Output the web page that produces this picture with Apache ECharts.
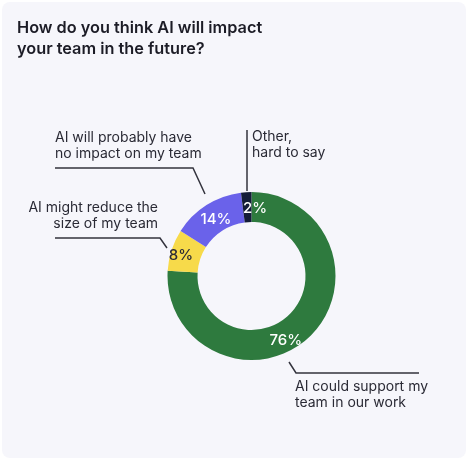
<!DOCTYPE html>
<html>
<head>
<meta charset="utf-8">
<script src="https://cdn.jsdelivr.net/npm/echarts@6/dist/echarts.min.js"></script>
<style>
  html, body { margin: 0; padding: 0; background: #ffffff; }
  #card { position: absolute; left: 2px; top: 2px; width: 464px; height: 456px; background: #f6f6fb; border-radius: 8px; }
  #main { position: absolute; left: 0; top: 0; width: 474px; height: 463px; }
</style>
</head>
<body>
<div id="card"></div>
<div id="main"></div>
<script>
// answers, clockwise from 12 o'clock
const categories = [
  'AI could support my\nteam in our work',
  'AI might reduce the\nsize of my team',
  'AI will probably have\nno impact on my team',
  'Other,\nhard to say'
]
const shares = [76, 8, 14, 2]
const colors = ['#2e7a3e', '#f7da4a', '#6a62ea', '#141c38']
const pctColors = ['#ffffff', '#2a2a35', '#ffffff', '#ffffff']
// nudges for the % labels inside the ring
const pctOffsets = [[-15, 12], [-2, 2], [3, 4], [8, 4]]

// where the outside labels + leader lines go
const outside = [
  { x: 295, y: 379, align: 'left', v: 'top', pts: [[289, 362], [296, 373], [419, 373]] },
  { x: 158, y: 232, align: 'right', v: 'bottom', pts: [[167, 248], [160, 238], [55, 238]] },
  { x: 55, y: 162, align: 'left', v: 'bottom', pts: [[205, 194], [193, 168], [55, 168]] },
  { x: 252, y: 129, align: 'left', v: 'top', pts: [[247, 191], [247, 160], [247, 130]] }
]

const myChart = echarts.init(document.getElementById('main'))

const center = [251.5, 276]
const radius = [54, 84]

myChart.setOption({
  backgroundColor: 'transparent',
  title: {
    text: 'How do you think AI will impact\nyour team in the future?',
    left: 12,
    top: 13,
    textStyle: { fontFamily: 'Inter', fontWeight: 600, fontSize: 16.3, lineHeight: 21, color: '#1c1c26' }
  },
  series: [
    {
      type: 'pie',
      center: center,
      radius: radius,
      startAngle: 90,
      silent: true,
      itemStyle: { borderWidth: 0 },
      label: {
        show: true,
        position: 'inside',
        fontFamily: 'Inter',
        fontSize: 15,
        fontWeight: 500,
        formatter: p => p.value + '%'
      },
      labelLine: { show: false },
      data: shares.map((v, i) => ({
        name: categories[i],
        value: v,
        itemStyle: { color: colors[i] },
        label: { color: pctColors[i], offset: pctOffsets[i] }
      }))
    },
    {
      type: 'pie',
      center: center,
      radius: radius,
      startAngle: 90,
      silent: true,
      itemStyle: { color: 'transparent' },
      label: {
        show: true,
        position: 'outside',
        overflow: 'none',
        fontFamily: 'Inter',
        fontSize: 14,
        lineHeight: 16,
        color: '#2a2a35',
        formatter: p => p.name
      },
      labelLine: { show: true, lineStyle: { color: '#33333d', width: 1.5 } },
      labelLayout: p => {
        const o = outside[p.dataIndex]
        return { x: o.x, y: o.y, align: o.align, verticalAlign: o.v, labelLinePoints: o.pts }
      },
      data: shares.map((v, i) => ({ name: categories[i], value: v }))
    }
  ]
})
</script>
</body>
</html>
